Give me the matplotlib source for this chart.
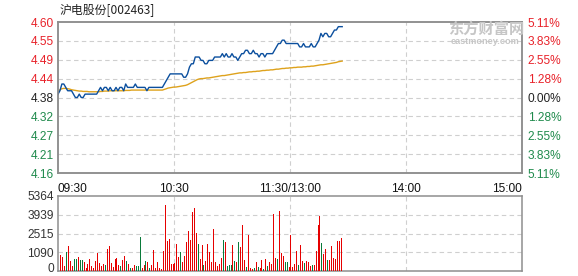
import matplotlib
matplotlib.use("Agg")
import matplotlib.pyplot as plt
import matplotlib.transforms as mtransforms
import numpy as np

# ---------------- data ----------------
title = "沪电股份[002463]"
prev_close = 4.38
price_ticks = [4.16, 4.21, 4.27, 4.32, 4.38, 4.44, 4.49, 4.55, 4.60]
pct_labels = ["5.11%", "3.83%", "2.55%", "1.28%", "0.00%", "1.28%", "2.55%", "3.83%", "5.11%"]
time_labels = ["09:30", "10:30", "11:30/13:00", "14:00", "15:00"]
time_ticks = [0, 60, 120, 180, 240]
vol_tick_labels = ["0", "1090", "2515", "3939", "5364"]
vol_max = 5364

price = [4.39, 4.40, 4.42, 4.42, 4.41, 4.40, 4.40, 4.40, 4.39, 4.38,
         4.38, 4.39, 4.38, 4.38, 4.39, 4.39, 4.39, 4.39, 4.39, 4.39,
         4.39, 4.40, 4.41, 4.40, 4.41, 4.41, 4.40, 4.41, 4.40, 4.40,
         4.41, 4.40, 4.41, 4.41, 4.40, 4.42, 4.41, 4.41, 4.41, 4.41,
         4.42, 4.41, 4.41, 4.41, 4.41, 4.41, 4.40, 4.41, 4.41, 4.41,
         4.41, 4.41, 4.41, 4.41, 4.41, 4.42, 4.43, 4.44, 4.45, 4.45,
         4.45, 4.45, 4.45, 4.45, 4.45, 4.44, 4.44, 4.45, 4.47, 4.48,
         4.48, 4.50, 4.50, 4.50, 4.49, 4.49, 4.48, 4.48, 4.49, 4.49,
         4.49, 4.50, 4.50, 4.50, 4.50, 4.51, 4.50, 4.51, 4.50, 4.50,
         4.51, 4.50, 4.50, 4.49, 4.50, 4.51, 4.51, 4.52, 4.52, 4.51,
         4.51, 4.52, 4.51, 4.51, 4.50, 4.51, 4.51, 4.50, 4.51, 4.51,
         4.51, 4.51, 4.52, 4.53, 4.54, 4.54, 4.55, 4.55, 4.54, 4.54,
         4.54, 4.54, 4.54, 4.54, 4.54, 4.53, 4.53, 4.54, 4.53, 4.53,
         4.53, 4.54, 4.53, 4.53, 4.54, 4.55, 4.57, 4.56, 4.57, 4.57,
         4.56, 4.56, 4.57, 4.58, 4.58, 4.59, 4.59, 4.59]

avg_price = [4.396, 4.403, 4.406, 4.407, 4.407, 4.406, 4.405, 4.403, 4.402, 4.401,
             4.400, 4.399, 4.399, 4.398, 4.398, 4.398, 4.397, 4.397, 4.397, 4.397,
             4.397, 4.397, 4.398, 4.398, 4.399, 4.399, 4.399, 4.400, 4.400, 4.400,
             4.400, 4.400, 4.400, 4.400, 4.400, 4.401, 4.401, 4.401, 4.402, 4.402,
             4.402, 4.402, 4.402, 4.402, 4.402, 4.402, 4.402, 4.402, 4.402, 4.402,
             4.402, 4.402, 4.402, 4.402, 4.402, 4.404, 4.406, 4.408, 4.409, 4.410,
             4.411, 4.411, 4.412, 4.413, 4.414, 4.415, 4.416, 4.418, 4.421, 4.424,
             4.427, 4.430, 4.433, 4.435, 4.436, 4.436, 4.437, 4.438, 4.438, 4.439,
             4.440, 4.441, 4.442, 4.443, 4.444, 4.445, 4.445, 4.446, 4.447, 4.448,
             4.449, 4.450, 4.451, 4.452, 4.453, 4.453, 4.454, 4.454, 4.455, 4.456,
             4.456, 4.457, 4.457, 4.458, 4.458, 4.459, 4.460, 4.460, 4.461, 4.461,
             4.462, 4.462, 4.463, 4.464, 4.464, 4.465, 4.466, 4.466, 4.467, 4.467,
             4.468, 4.468, 4.469, 4.469, 4.470, 4.470, 4.470, 4.471, 4.471, 4.472,
             4.472, 4.473, 4.473, 4.474, 4.475, 4.476, 4.477, 4.477, 4.478, 4.479,
             4.480, 4.481, 4.482, 4.483, 4.484, 4.486, 4.487, 4.488]

volume = [1144, 1000, 358, 1359, 1788, 715, 358, 858, 858, 1000,
          787, 787, 643, 215, 524, 858, 358, 215, 715, 1287,
          572, 358, 500, 429, 1573, 1788, 572, 286, 858, 930,
          429, 358, 787, 1073, 715, 500, 215, 215, 429, 358,
          358, 2432, 215, 429, 715, 643, 215, 429, 1502, 215,
          643, 215, 143, 1430, 4720, 2146, 2289, 500, 500, 572,
          1931, 1000, 1359, 643, 1073, 2074, 2861, 2217, 4220, 4506,
          2718, 1931, 858, 1859, 429, 715, 1931, 1359, 643, 3004,
          643, 358, 500, 930, 2217, 2074, 358, 429, 429, 1859,
          715, 643, 2074, 1716, 3290, 787, 286, 2575, 215, 143,
          215, 667, 286, 215, 787, 143, 858, 380, 643, 500,
          4077, 930, 858, 4291, 1287, 1073, 643, 643, 300, 2575,
          286, 500, 1430, 429, 1859, 715, 572, 715, 643, 358,
          429, 429, 1430, 3290, 3934, 2003, 1216, 1573, 787, 787,
          1788, 930, 858, 2146, 2146, 2360]

vol_dir = ["r", "r", "r", "g", "r", "r", "r", "g", "g", "r",
           "g", "g", "r", "r", "r", "r", "r", "r", "r", "r",
           "r", "r", "r", "g", "r", "r", "r", "r", "r", "r",
           "r", "g", "r", "r", "g", "r", "g", "r", "r", "g",
           "g", "g", "r", "r", "g", "r", "g", "r", "r", "r",
           "r", "r", "r", "r", "r", "r", "r", "r", "r", "r",
           "r", "r", "g", "r", "r", "r", "r", "r", "r", "r",
           "r", "g", "r", "r", "g", "r", "r", "r", "r", "r",
           "r", "r", "r", "r", "g", "r", "g", "g", "g", "r",
           "g", "r", "g", "r", "r", "r", "g", "r", "r", "r",
           "g", "r", "g", "r", "r", "g", "r", "g", "r", "r",
           "r", "r", "g", "r", "r", "r", "g", "g", "r", "r",
           "r", "r", "r", "g", "r", "r", "g", "r", "r", "r",
           "g", "r", "r", "r", "r", "g", "r", "r", "g", "r",
           "r", "r", "r", "r", "r", "r"]

# ---------------- style ----------------
RED = "#e8222a"
GREEN = "#1f8a4c"
BAR_RED = "#e60000"
BAR_GREEN = "#0a7a3a"
SPINE = "#8e8e8e"
GRID = "#cfcfcf"
plt.rcParams["font.family"] = ["Liberation Sans", "DejaVu Sans"]

W, H = 578, 276
fig = plt.figure(figsize=(W / 100, H / 100), dpi=100)

def frac(x0, y0, x1, y1):
    return [x0 / W, 1 - y1 / H, (x1 - x0) / W, (y1 - y0) / H]

ax = fig.add_axes(frac(58, 22, 522, 173))
axv = fig.add_axes(frac(58, 196, 522, 271))

span = prev_close * 0.0511
ymin, ymax = prev_close - span, prev_close + span

x_price = np.arange(len(price))
ax.plot(x_price, price, color="#0b4f9e", lw=1.0, zorder=3)
ax.plot(x_price, avg_price, color="#dea21c", lw=1.0, zorder=2)
ax.set_xlim(0, 240)
ax.set_ylim(ymin, ymax)

tick_pos = np.linspace(ymin, ymax, 9)
ax.set_yticks(tick_pos)
ax.set_yticklabels([f"{v:.2f}" for v in price_ticks])
for i, lab in enumerate(ax.get_yticklabels()):
    lab.set_color(RED if i > 4 else (GREEN if i < 4 else "#222222"))
ax.set_xticks(time_ticks)
ax.set_xticklabels(time_labels)
xl = ax.get_xticklabels()
xl[0].set_horizontalalignment("left")
xl[-1].set_horizontalalignment("right")
ax.tick_params(axis="both", length=0, labelsize=8.6)
ax.tick_params(axis="y", pad=3)
ax.tick_params(axis="x", pad=7, colors="#111111")

for y in tick_pos[1:-1]:
    ax.axhline(y, color=GRID, lw=0.8, ls=(0, (4, 3)), zorder=1)
for x in time_ticks[1:-1]:
    ax.axvline(x, color=GRID, lw=0.8, ls=(0, (4, 3)), zorder=1)

axr = ax.twinx()
axr.set_ylim(ymin, ymax)
axr.set_yticks(tick_pos)
axr.set_yticklabels(pct_labels[::-1])
for i, lab in enumerate(axr.get_yticklabels()):
    lab.set_color(RED if i > 4 else (GREEN if i < 4 else "#222222"))
axr.tick_params(axis="y", length=0, labelsize=8.6, pad=4)

for a in (ax, axr, axv):
    for s in a.spines.values():
        s.set_color(SPINE)
        s.set_linewidth(1.1)

# volume
x_vol = np.arange(len(volume)) + 1.5
cols = [BAR_RED if d == "r" else BAR_GREEN for d in vol_dir]
axv.bar(x_vol, volume, width=0.55, color=cols, zorder=3)
axv.set_xlim(0, 240)
axv.set_ylim(0, vol_max)
vt = np.linspace(0, vol_max, 5)
axv.set_yticks(vt)
axv.set_yticklabels(vol_tick_labels)
axv.set_xticks([])
axv.tick_params(axis="y", length=0, labelsize=8.6, pad=3, colors="#333333")
zero_lab = axv.get_yticklabels()[0]
zero_lab.set_transform(zero_lab.get_transform() +
                       mtransforms.ScaledTranslation(0, 2.5 / 72, fig.dpi_scale_trans))
for y in vt[1:-1]:
    axv.axhline(y, color=GRID, lw=0.8, ls=(0, (4, 3)), zorder=1)
for x in time_ticks[1:-1]:
    axv.axvline(x, color=GRID, lw=0.8, ls=(0, (4, 3)), zorder=1)

# title
fig.text(60 / W, 1 - 11 / H, title, fontsize=8.6, va="center", ha="left",
         color="#222222", family=["Noto Sans CJK SC", "DejaVu Sans"])

# watermark
fig.text(486 / W, 1 - 28.5 / H, "东方财富网", fontsize=11, va="center", ha="center",
         color="#c6c6c6", fontweight="bold", family=["Noto Sans CJK SC", "DejaVu Sans"])
fig.text(485 / W, 1 - 41.5 / H, "eastmoney.com", fontsize=6.6, va="center", ha="center",
         color="#c6c6c6", fontweight="bold")

fig.savefig("out.png", dpi=100)
